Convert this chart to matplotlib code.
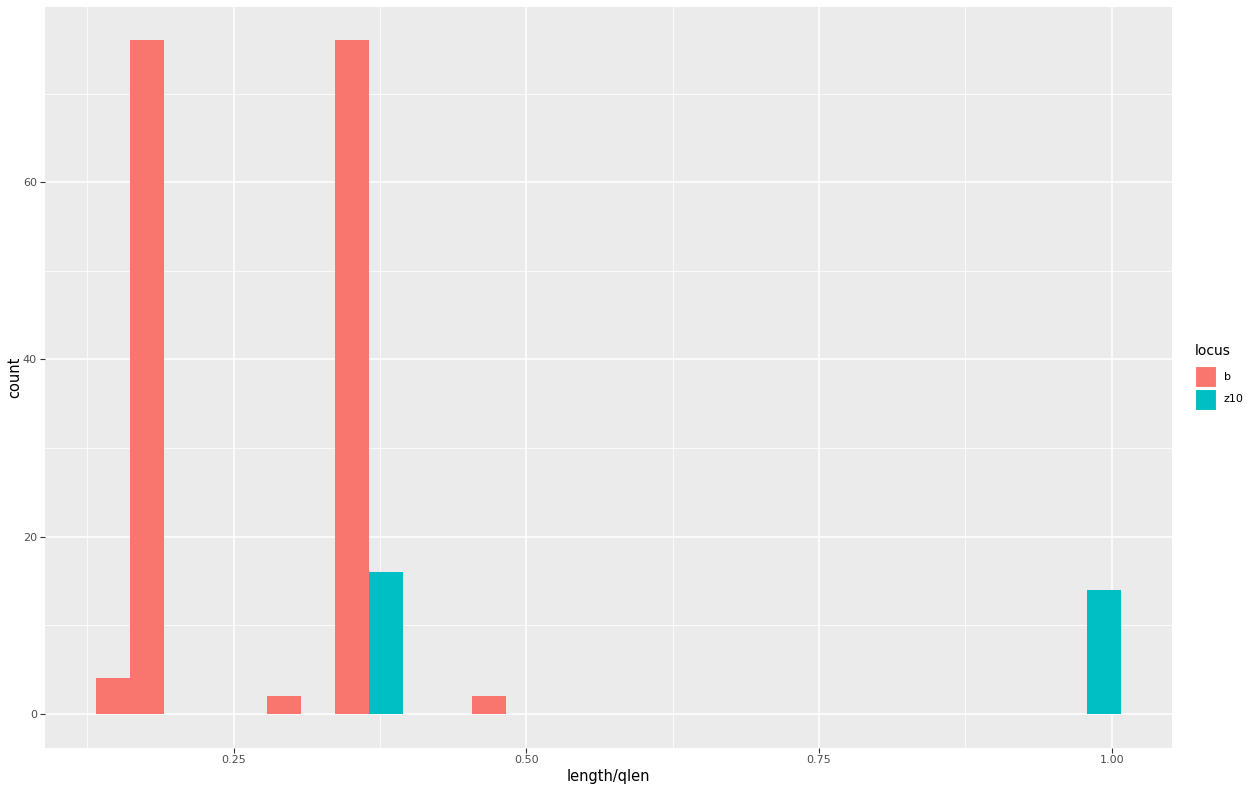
import matplotlib

matplotlib.use("Agg")
import matplotlib.pyplot as plt
from matplotlib.patches import Rectangle
import numpy as np

# histogram of length/qlen, 30 bins, centres span data min..max
x_min = 0.1468
x_max = 0.9931
n_bins = 30

loci = ["b", "z10"]
colors = {"b": "#F8766D", "z10": "#00BFC4"}
b_bins = [0, 1, 5, 7, 11]
b_counts = [4, 76, 2, 76, 2]
z10_bins = [8, 29]
z10_counts = [16, 14]

x_ticks = [0.25, 0.50, 0.75, 1.00]
x_ticklabels = ["0.25", "0.50", "0.75", "1.00"]
y_ticks = [0, 20, 40, 60]

width = (x_max - x_min) / (n_bins - 1)
lefts = x_min - width / 2 + np.arange(n_bins) * width

W, H = 1258, 790
fig = plt.figure(figsize=(12.58, 7.90), dpi=100)
ax = fig.add_axes([44.5 / W, 1 - 747.6 / H, (1172 - 44.5) / W, (747.6 - 6.7) / H])
ax.set_facecolor("#EBEBEB")

ax.bar(lefts[b_bins], b_counts, width=width, align="edge", color=colors["b"], zorder=3)
ax.bar(lefts[z10_bins], z10_counts, width=width, align="edge", color=colors["z10"], zorder=3)

lo, hi = lefts[0], lefts[-1] + width
pad = 0.05 * (hi - lo)
ax.set_xlim(lo - pad, hi + pad)
ax.set_ylim(-0.05 * 76, 76 * 1.05)

ax.set_xticks(x_ticks)
ax.set_xticklabels(x_ticklabels)
ax.set_yticks(y_ticks)
ax.set_xticks([0.125, 0.375, 0.625, 0.875], minor=True)
ax.set_yticks([10, 30, 50, 70], minor=True)
ax.grid(True, which="major", color="white", linewidth=1.1, zorder=1)
ax.grid(True, which="minor", color="white", linewidth=0.55, zorder=1)
ax.set_axisbelow(True)
for s in ax.spines.values():
    s.set_visible(False)
ax.tick_params(which="major", length=3.5, width=0.8, color="#333333",
               labelcolor="#4D4D4D", labelsize=8, pad=2)
ax.tick_params(which="minor", length=0)

ax.set_xlabel("length/qlen", fontsize=10.5, color="black", labelpad=3)
ax.set_ylabel("count", fontsize=10.5, color="black", labelpad=0)

# legend drawn by hand in pixel positions, ggplot style
fig.text(1195 / W, 1 - 351 / H, "locus", fontsize=10, va="center", ha="left")
for i, name in enumerate(loci):
    top = 366 + i * 23
    fig.add_artist(Rectangle((1195 / W, 1 - (top + 21) / H), 21 / W, 21 / H,
                             transform=fig.transFigure, facecolor=colors[name],
                             edgecolor="white", linewidth=0.8))
    fig.text(1224 / W, 1 - (top + 10.5) / H, name, fontsize=8, va="center", ha="left")

fig.savefig("out.png", dpi=100)
plt.close(fig)
